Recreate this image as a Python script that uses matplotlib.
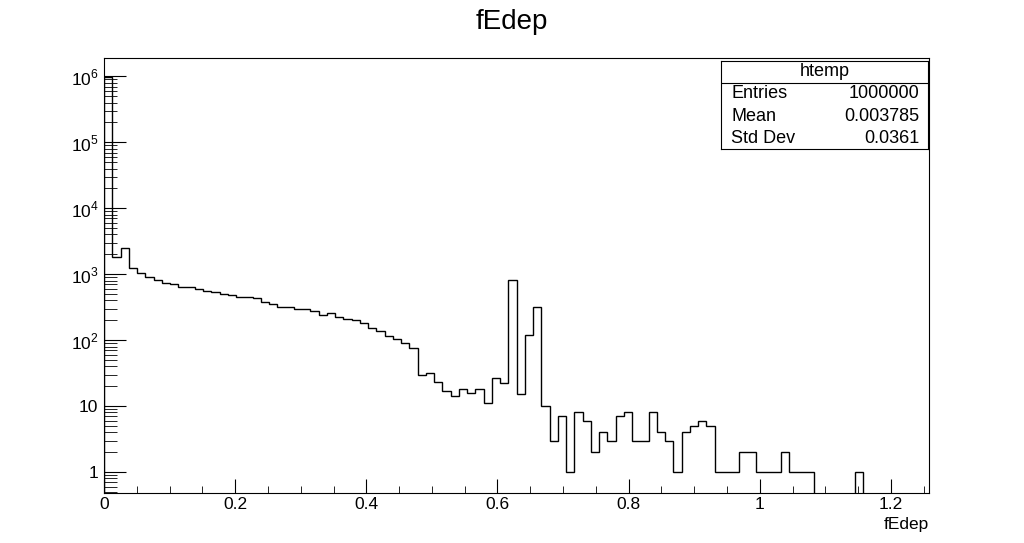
import numpy as np
import matplotlib.pyplot as plt
from matplotlib.ticker import FixedLocator, MultipleLocator, LogLocator, NullFormatter

plt.rcParams['font.family'] = ['Liberation Sans', 'DejaVu Sans']
plt.rcParams['mathtext.fontset'] = 'custom'
plt.rcParams['mathtext.rm'] = 'Liberation Sans'

# histogram contents, 100 bins over [0, 1.258]
x_min = 0.0
x_max = 1.258
counts = [
    988000, 1820, 2500, 1220, 1050, 910, 810, 740, 705, 635,
    635, 600, 565, 530, 500, 490, 444, 444, 433, 380,
    350, 320, 320, 295, 295, 278, 240, 254, 228, 210,
    200, 179, 154, 139, 114, 103, 91, 75, 30, 32,
    23, 17, 14, 18, 16, 18, 11, 27, 22, 820,
    15, 119, 313, 10, 3, 7, 1, 8, 6, 2,
    4, 3, 7, 8, 3, 3, 8, 4, 3, 1,
    4, 5, 6, 5, 1, 1, 1, 2, 2, 1,
    1, 1, 2, 1, 1, 1, 0, 0, 0, 0,
    0, 1, 0, 0, 0, 0, 0, 0, 0, 0,
]
stats_labels = ["Entries", "Mean", "Std Dev"]
stats_values = ["1000000", "0.003785", "0.0361"]
y_ticks = [1, 10, 100, 1e3, 1e4, 1e5, 1e6]
y_tick_labels = ["1", "10", "$10^2$", "$10^3$", "$10^4$", "$10^5$", "$10^6$"]

fig = plt.figure(figsize=(10.24, 5.43), dpi=100)
ax = fig.add_axes([104 / 1024, 1 - 493 / 543, (929 - 104) / 1024, (493 - 58) / 543])

edges = np.linspace(x_min, x_max, len(counts) + 1)
vals = np.array(counts, dtype=float)
vals[vals == 0] = 1e-3  # empty bins drop to the floor like ROOT
ax.stairs(vals, edges, color="black", linewidth=1.0, baseline=1e-3)

ax.set_yscale("log")
ax.set_xlim(x_min, x_max)
ax.set_ylim(0.48, 1.9e6)

ax.xaxis.set_major_locator(MultipleLocator(0.2))
ax.xaxis.set_minor_locator(MultipleLocator(0.05))
ax.yaxis.set_major_locator(FixedLocator(y_ticks))
ax.set_yticklabels(y_tick_labels)
ax.yaxis.set_minor_locator(LogLocator(base=10, subs=np.arange(2, 10)))
ax.yaxis.set_minor_formatter(NullFormatter())
ax.tick_params(axis="both", which="both", direction="in", top=False, right=False, labelsize=12.5)
ax.tick_params(axis="x", which="major", length=10, pad=3)
ax.tick_params(axis="x", which="minor", length=5)
ax.tick_params(axis="y", which="major", length=16, pad=4)
ax.tick_params(axis="y", which="minor", length=9)

xt = [0, 0.2, 0.4, 0.6, 0.8, 1.0, 1.2]
ax.set_xticks(xt)
ax.set_xticklabels(["0", "0.2", "0.4", "0.6", "0.8", "1", "1.2"])

for s in ax.spines.values():
    s.set_linewidth(0.8)

fig.text(0.5, 1 - 22 / 543, "fEdep", ha="center", va="center", fontsize=20)
fig.text(929 / 1024, 1 - 524 / 543, "fEdep", ha="right", va="center", fontsize=12.5)

# statistics box
bx0, bx1 = 721 / 1024, 928 / 1024
by_top, by_bot = 1 - 61 / 543, 1 - 149 / 543
box_ax = fig.add_axes([bx0, by_bot, bx1 - bx0, by_top - by_bot])
box_ax.set_xticks([])
box_ax.set_yticks([])
box_ax.set_xlim(0, 1)
box_ax.set_ylim(0, 4)
box_ax.axhline(3, color="black", linewidth=0.8)
box_ax.text(0.5, 3.5, "htemp", ha="center", va="center", fontsize=13)
for i, (lab, val) in enumerate(zip(stats_labels, stats_values)):
    yy = 2.5 - i
    box_ax.text(0.05, yy, lab, ha="left", va="center", fontsize=13)
    box_ax.text(0.96, yy, val, ha="right", va="center", fontsize=13)

fig.savefig("out.png", dpi=100)
